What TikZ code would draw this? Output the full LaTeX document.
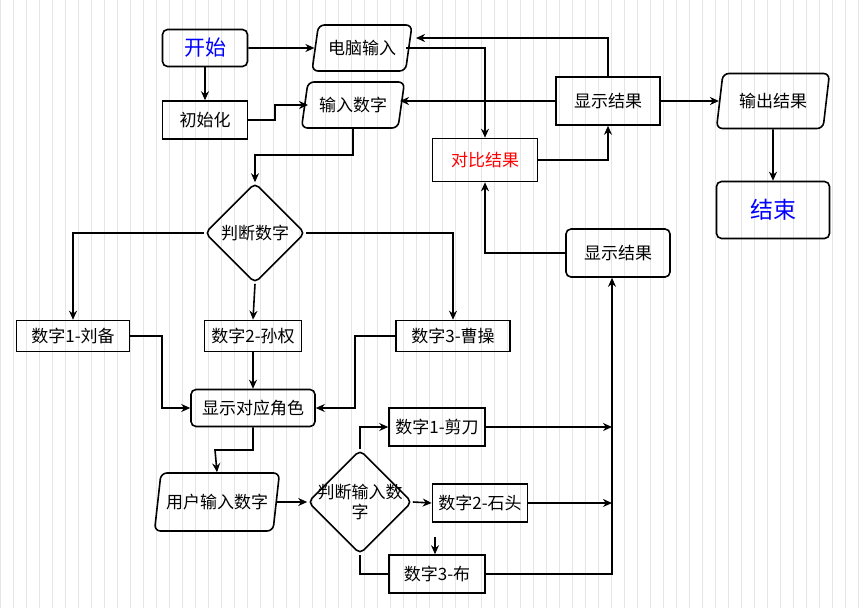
\documentclass[tikz,border=0pt]{standalone}
\usepackage{fontspec}
\setmainfont{Noto Sans CJK SC}
\usetikzlibrary{shapes.geometric,arrows.meta}
\tikzset{
  every node/.style={font=\fontsize{17}{20}\selectfont},
  box/.style={draw, line width=1.6pt, rectangle, minimum width=#1, minimum height=38pt, inner sep=1pt},
  rbox/.style={box=#1, rounded corners=5pt},
  io/.style={draw, line width=1.6pt, trapezium, trapezium left angle=70, trapezium right angle=110, trapezium stretches body, rounded corners=6pt, minimum width=#1, minimum height=46pt, inner xsep=0pt, inner ysep=1pt},
  judge/.style={draw, line width=1.6pt, diamond, rounded corners=5pt, minimum width=#1, minimum height=#1, inner sep=0pt, text width=30pt, align=center},
  arrow/.style={line width=1.6pt, -{Stealth[length=9pt,width=8pt]}},
  line/.style={line width=1.6pt}
}
\begin{document}
\begin{tikzpicture}[x=1pt, y=-1pt]
\useasboundingbox (0,0) rectangle (865,608);
\fill[white] (0,0) rectangle (865,608);
\draw[black!10, step=13] (0,0) grid (865,608);

% nodes
\node (start)   [rbox=85pt, minimum height=37pt, text=blue, font=\fontsize{21}{24}\selectfont] at (205,48) {开始};
\node (init)    [box=85pt]  at (205,120) {初始化};
\node (pcin)    [io=100pt]  at (362,48)  {电脑输入};
\node (numin)   [io=103pt]  at (353,105) {输入数字};
\node (cmp)     [box=105pt, minimum height=43pt, text=red] at (485,160) {对比结果};
\node (show)    [box=104pt, minimum height=48pt] at (608,101) {显示结果};
\node (out)     [io=113pt, minimum height=55pt] at (773,101) {输出结果};
\node (stop)    [rbox=113pt, minimum height=57pt, text=blue, font=\fontsize{23}{26}\selectfont] at (773,210) {结束};
\node (judge)   [judge=100pt] at (255,233) {\makebox[30pt]{判断数字}};
\node (show2)   [rbox=104pt, minimum height=48pt] at (618,253) {显示结果};
\node (n1)      [box=113pt, minimum height=31pt] at (73,336)  {数字1-刘备};
\node (n2)      [box=97pt, minimum height=31pt]  at (253,336) {数字2-孙权};
\node (n3)      [box=114pt, minimum height=31pt] at (453,336) {数字3-曹操};
\node (role)    [rbox=124pt, minimum height=37pt] at (253,408) {显示对应角色};
\node (userin)  [io=125pt, minimum height=58pt] at (217,502) {用户输入数字};
\node (judge2)  [judge=104pt] at (360,502) {\makebox[30pt]{判断输入数}\\字};
\node (s1)      [box=96pt] at (437,427) {数字1-剪刀};
\node (s2)      [box=95pt] at (480,503) {数字2-石头};
\node (s3)      [box=96pt] at (437,574) {数字3-布};
\coordinate (bus1) at (612,427);
\coordinate (bus2) at (612,503);
\coordinate (busend) at (612,574);
\coordinate (tick) at (435,537);

% connectors
\draw [arrow] (start) -- (pcin);
\draw [arrow] (start) -- (init);
\draw [arrow] (init.east) -- (275,120) |- (308,105);
\draw [arrow] (numin.south) |- (255,155) -- (judge.north);
\draw [arrow] (406,48) -| (cmp.north);
\draw [arrow] (show.north) |- (416,38);
\draw [arrow] (show.west) -- (400,101);
\draw [arrow] (show.east) -- (out);
\draw [arrow] (out.south) -- (stop.north);
\draw [arrow] (cmp.east) -| (show.south);
\draw [arrow] (show2.west) -| (cmp.south);
\draw [arrow] (judge.west) -| (n1.north);
\draw [arrow] (judge.south) -- (n2.north);
\draw [arrow] (judge.east) -| (n3.north);
\draw [arrow] (n1.east) -| (162,408) -- (role.west);
\draw [arrow] (n3.west) -| (355,408) -- (role.east);
\draw [arrow] (n2.south) -- (role.north);
\draw [arrow] (role.south) |- (215,450) -- (userin.north);
\draw [arrow] (userin) -- (judge2);
\draw [arrow] (judge2.north) |- (s1.west);
\draw [arrow] (judge2.east) -- (s2.west);
\draw [line]  (judge2.south) |- (s3.west);
\draw [arrow] (s1.east) -- (bus1);
\draw [arrow] (s2.east) -- (bus2);
\draw [arrow] (s3.east) -- (busend) -- (show2.south -| busend);
\draw [arrow] (tick) -- (s3.north -| tick);
\end{tikzpicture}
\end{document}
